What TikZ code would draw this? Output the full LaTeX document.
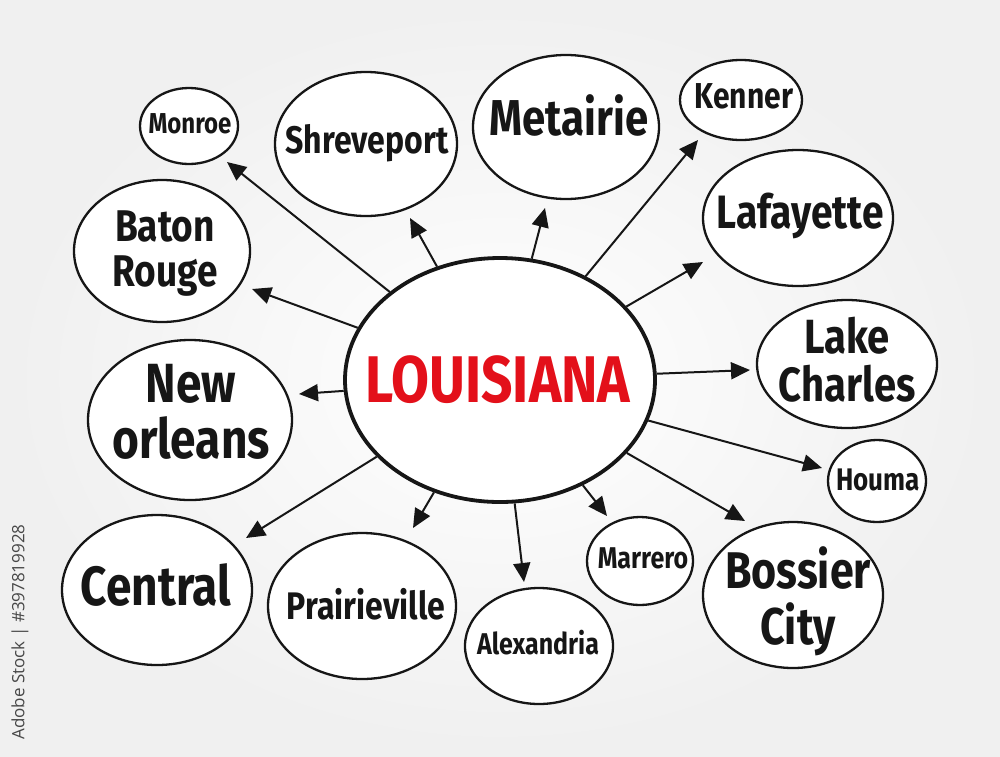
\documentclass[tikz,border=0pt]{standalone}
\usepackage{fontspec}
\setmainfont{Fira Sans}
\newfontfamily\wmfont{Open Sans}
\usepackage{graphicx}
\usetikzlibrary{shapes.geometric,arrows.meta}
\definecolor{ink}{HTML}{161616}
\definecolor{lred}{HTML}{E3101A}
\newcommand\hw[3]{\scalebox{1}[1.2]{\fontsize{#1}{#2}\selectfont\bfseries\begin{tabular}{@{}c@{}}#3\end{tabular}}}
\tikzset{
  bub/.style={ellipse, draw=ink, line width=2.3pt, fill=white, inner sep=0pt},
  hub/.style={ellipse, draw=ink, line width=3.8pt, fill=white, inner sep=0pt},
  lbl/.style={text=ink, inner sep=0pt},
  arr/.style={draw=ink, line width=2pt, -{Triangle[length=19pt,width=17pt]}},
}
\begin{document}
\begin{tikzpicture}[x=1pt,y=-1pt]
\useasboundingbox (0,0) rectangle (1000,756);
\shade[inner color=white, outer color=black!6] (0,0) rectangle (1000,756);
\node[rotate=90, text=black!72, font=\wmfont\fontsize{17}{20}\selectfont] (wm) at (20,632) {Adobe Stock | \#397819928};

% bubbles
\node[hub, minimum width=310pt, minimum height=244pt] (L) at (500,380) {};
\node[bub, minimum width=98pt,  minimum height=76pt]  (mon) at (189,126) {};
\node[bub, minimum width=182pt, minimum height=144pt] (shr) at (366,144) {};
\node[bub, minimum width=186pt, minimum height=144pt] (met) at (566,127) {};
\node[bub, minimum width=122pt, minimum height=80pt]  (ken) at (741,100) {};
\node[bub, minimum width=190pt, minimum height=136pt] (laf) at (798,218) {};
\node[bub, minimum width=176pt, minimum height=142pt] (bat) at (162,251) {};
\node[bub, minimum width=180pt, minimum height=128pt] (lak) at (847,364) {};
\node[bub, minimum width=204pt, minimum height=160pt] (new) at (190,420) {};
\node[bub, minimum width=98pt,  minimum height=82pt]  (hou) at (877,481) {};
\node[bub, minimum width=190pt, minimum height=150pt] (cen) at (157,590) {};
\node[bub, minimum width=188pt, minimum height=146pt] (pra) at (362,606) {};
\node[bub, minimum width=148pt, minimum height=116pt] (ale) at (539,646) {};
\node[bub, minimum width=106pt, minimum height=88pt]  (mar) at (640,561) {};
\node[bub, minimum width=180pt, minimum height=146pt] (bos) at (793,595) {};

% labels
\node[lbl, text=lred] (LT) at (498,388) {\hw{55pt}{60pt}{LOUISIANA}};
\node[lbl] (monT) at (190,127) {\hw{24pt}{28pt}{Monroe}};
\node[lbl] (shrT) at (367,145) {\hw{32pt}{36pt}{Shreveport}};
\node[lbl] (metT) at (569,123) {\hw{42pt}{46pt}{Metairie}};
\node[lbl] (kenT) at (744,100) {\hw{30pt}{34pt}{Kenner}};
\node[lbl] (lafT) at (800,218) {\hw{39pt}{43pt}{Lafayette}};
\node[lbl] (batT) at (165,255) {\hw{37pt}{38pt}{Baton\\Rouge}};
\node[lbl] (lakT) at (847,365) {\hw{40pt}{33pt}{Lake\\Charles}};
\node[lbl] (newT) at (191,418) {\hw{46pt}{37pt}{New\\orleans}};
\node[lbl] (houT) at (878,483) {\hw{26pt}{30pt}{Houma}};
\node[lbl] (cenT) at (156,593) {\hw{46pt}{50pt}{Central}};
\node[lbl] (praT) at (366,610) {\hw{32pt}{36pt}{Prairieville}};
\node[lbl] (aleT) at (538,648) {\hw{25pt}{29pt}{Alexandria}};
\node[lbl] (marT) at (643,562) {\hw{25pt}{29pt}{Marrero}};
\node[lbl] (bosT) at (798,603) {\hw{43pt}{41pt}{Bossier\\City}};

% arrow ends
\coordinate (tmon) at (227,162);
\coordinate (tbat) at (252,289);
\coordinate (tnew) at (299,394);
\coordinate (tcen) at (246,538);
\coordinate (tpra) at (413,528);
\coordinate (tale) at (524,582);
\coordinate (tmar) at (607,516);
\coordinate (tbos) at (745,521);
\coordinate (thou) at (822,468);
\coordinate (tlak) at (750,370);
\coordinate (tlaf) at (703,262);
\coordinate (tken) at (698,140);
\coordinate (tmet) at (545,208);
\coordinate (tshr) at (410,218);

\foreach \t in {tmon,tbat,tnew,tcen,tpra,tale,tmar,tbos,thou,tlak,tlaf,tken,tmet,tshr}
  \draw[arr] (L) -- (\t);
\end{tikzpicture}
\end{document}
